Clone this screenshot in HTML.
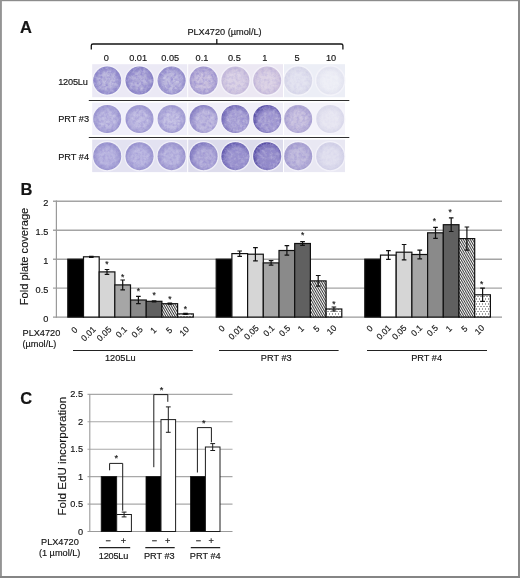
<!DOCTYPE html>
<html lang="en"><head><meta charset="utf-8"><title>Figure</title>
<style>html,body{margin:0;padding:0;background:#fff}body{width:520px;height:578px;overflow:hidden}svg{display:block}text{font-family:"Liberation Sans",Arial,Helvetica,sans-serif;fill:#151515;stroke:#151515;stroke-width:0.16px}</style>
</head><body>
<svg width="520" height="578" viewBox="0 0 520 578">
<defs>
<pattern id="hatch" width="2" height="2" patternUnits="userSpaceOnUse" patternTransform="rotate(60)"><rect width="2" height="2" fill="#fff"/><rect width="2" height="0.9" fill="#222"/></pattern>
<pattern id="dots" width="3" height="5" patternUnits="userSpaceOnUse"><rect width="3" height="5" fill="#fff"/><rect x="0.5" y="1" width="1" height="1" fill="#444"/><rect x="2" y="3.5" width="1" height="1" fill="#444"/></pattern>
<filter id="speck" x="0" y="0" width="100%" height="100%"><feTurbulence type="fractalNoise" baseFrequency="0.34" numOctaves="3" seed="7" result="n"/><feColorMatrix in="n" type="matrix" values="0 0 0 0 0.28  0 0 0 0 0.24  0 0 0 0 0.62  0 0 0 2.5 -0.98" result="c"/><feComposite in="c" in2="SourceGraphic" operator="in" result="d"/><feGaussianBlur in="d" stdDeviation="0.45"/></filter>
<filter id="speckw" x="0" y="0" width="100%" height="100%"><feTurbulence type="fractalNoise" baseFrequency="0.3" numOctaves="3" seed="19" result="n"/><feColorMatrix in="n" type="matrix" values="0 0 0 0 0.95  0 0 0 0 0.94  0 0 0 0 1  0 0 0 2.4 -1.0" result="c"/><feComposite in="c" in2="SourceGraphic" operator="in" result="d"/><feGaussianBlur in="d" stdDeviation="0.3"/></filter>
<filter id="soft"><feGaussianBlur stdDeviation="0.45"/></filter>
</defs>
<rect width="520" height="578" fill="#fff"/>
<text x="20" y="33" font-size="16.5" font-weight="bold" fill="#000">A</text>
<text x="224.5" y="34.8" font-size="9.2" text-anchor="middle">PLX4720 (µmol/L)</text>
<path d="M91.3 49.5 V45.6 Q91.3 44 93 44 H341.2 Q342.9 44 342.9 45.6 V49.5" fill="none" stroke="#151515" stroke-width="1.3"/>
<path d="M216.8 44 V38.9" fill="none" stroke="#151515" stroke-width="1.3"/>
<text x="106.2" y="61.3" font-size="9.2" text-anchor="middle">0</text>
<text x="138.1" y="61.3" font-size="9.2" text-anchor="middle">0.01</text>
<text x="170.2" y="61.3" font-size="9.2" text-anchor="middle">0.05</text>
<text x="202" y="61.3" font-size="9.2" text-anchor="middle">0.1</text>
<text x="234.4" y="61.3" font-size="9.2" text-anchor="middle">0.5</text>
<text x="264.9" y="61.3" font-size="9.2" text-anchor="middle">1</text>
<text x="297" y="61.3" font-size="9.2" text-anchor="middle">5</text>
<text x="331" y="61.3" font-size="9.2" text-anchor="middle">10</text>
<text x="58.2" y="85" font-size="9.2" letter-spacing="-0.2">1205Lu</text>
<rect x="92.2" y="64.2" width="95.0" height="33.0" fill="#ebe9f5"/>
<rect x="188.2" y="64.2" width="94.8" height="33.0" fill="#ece8f3"/>
<rect x="284.0" y="64.2" width="61.0" height="33.0" fill="#eceef6"/>
<radialGradient id="g00" cx="0.5" cy="0.52" r="0.5"><stop offset="0" stop-color="#b6b2da"/><stop offset="0.55" stop-color="#b6b2da"/><stop offset="0.92" stop-color="#8d87c8"/><stop offset="1" stop-color="#8d87c8"/></radialGradient>
<circle cx="107.2" cy="80.6" r="15.3" fill="#f6f5fb" opacity="0.75" filter="url(#soft)"/>
<circle cx="107.2" cy="80.6" r="14.0" fill="url(#g00)" filter="url(#soft)"/>
<radialGradient id="g01" cx="0.5" cy="0.52" r="0.5"><stop offset="0" stop-color="#aea9d6"/><stop offset="0.55" stop-color="#aea9d6"/><stop offset="0.92" stop-color="#8882c4"/><stop offset="1" stop-color="#8882c4"/></radialGradient>
<circle cx="139.5" cy="80.6" r="15.3" fill="#f6f5fb" opacity="0.75" filter="url(#soft)"/>
<circle cx="139.5" cy="80.6" r="14.0" fill="url(#g01)" filter="url(#soft)"/>
<radialGradient id="g02" cx="0.5" cy="0.52" r="0.5"><stop offset="0" stop-color="#bab6dc"/><stop offset="0.55" stop-color="#bab6dc"/><stop offset="0.92" stop-color="#9690cb"/><stop offset="1" stop-color="#9690cb"/></radialGradient>
<circle cx="171.6" cy="80.6" r="15.3" fill="#f6f5fb" opacity="0.75" filter="url(#soft)"/>
<circle cx="171.6" cy="80.6" r="14.0" fill="url(#g02)" filter="url(#soft)"/>
<radialGradient id="g03" cx="0.5" cy="0.52" r="0.5"><stop offset="0" stop-color="#c6bcdc"/><stop offset="0.55" stop-color="#c6bcdc"/><stop offset="0.92" stop-color="#a79dd0"/><stop offset="1" stop-color="#a79dd0"/></radialGradient>
<circle cx="203.6" cy="80.6" r="15.3" fill="#f6f5fb" opacity="0.75" filter="url(#soft)"/>
<circle cx="203.6" cy="80.6" r="14.0" fill="url(#g03)" filter="url(#soft)"/>
<radialGradient id="g04" cx="0.5" cy="0.52" r="0.5"><stop offset="0" stop-color="#dad1e5"/><stop offset="0.55" stop-color="#dad1e5"/><stop offset="0.92" stop-color="#cabfdc"/><stop offset="1" stop-color="#cabfdc"/></radialGradient>
<circle cx="235.4" cy="80.6" r="15.3" fill="#f6f5fb" opacity="0.75" filter="url(#soft)"/>
<circle cx="235.4" cy="80.6" r="14.0" fill="url(#g04)" filter="url(#soft)"/>
<radialGradient id="g05" cx="0.5" cy="0.52" r="0.5"><stop offset="0" stop-color="#dcd2e5"/><stop offset="0.55" stop-color="#dcd2e5"/><stop offset="0.92" stop-color="#ccc0dc"/><stop offset="1" stop-color="#ccc0dc"/></radialGradient>
<circle cx="267.2" cy="80.6" r="15.3" fill="#f6f5fb" opacity="0.75" filter="url(#soft)"/>
<circle cx="267.2" cy="80.6" r="14.0" fill="url(#g05)" filter="url(#soft)"/>
<radialGradient id="g06" cx="0.5" cy="0.52" r="0.5"><stop offset="0" stop-color="#e3e3f0"/><stop offset="0.55" stop-color="#e3e3f0"/><stop offset="0.92" stop-color="#dadaea"/><stop offset="1" stop-color="#dadaea"/></radialGradient>
<circle cx="298.2" cy="80.6" r="15.3" fill="#f6f5fb" opacity="0.75" filter="url(#soft)"/>
<circle cx="298.2" cy="80.6" r="14.0" fill="url(#g06)" filter="url(#soft)"/>
<radialGradient id="g07" cx="0.5" cy="0.52" r="0.5"><stop offset="0" stop-color="#eeeff6"/><stop offset="0.55" stop-color="#eeeff6"/><stop offset="0.92" stop-color="#e5e6f1"/><stop offset="1" stop-color="#e5e6f1"/></radialGradient>
<circle cx="330.2" cy="80.6" r="15.3" fill="#f6f5fb" opacity="0.75" filter="url(#soft)"/>
<circle cx="330.2" cy="80.6" r="14.0" fill="url(#g07)" filter="url(#soft)"/>
<text x="58.2" y="122.3" font-size="9.2">PRT #3</text>
<rect x="92.2" y="102.6" width="95.0" height="32.4" fill="#f0effa"/>
<rect x="188.2" y="102.6" width="94.8" height="32.4" fill="#f0eff8"/>
<rect x="284.0" y="102.6" width="61.0" height="32.4" fill="#f4f3fa"/>
<radialGradient id="g10" cx="0.5" cy="0.52" r="0.5"><stop offset="0" stop-color="#bcb8e0"/><stop offset="0.55" stop-color="#bcb8e0"/><stop offset="0.92" stop-color="#9c97d0"/><stop offset="1" stop-color="#9c97d0"/></radialGradient>
<circle cx="107.2" cy="119.0" r="15.3" fill="#f6f5fb" opacity="0.75" filter="url(#soft)"/>
<circle cx="107.2" cy="119.0" r="14.0" fill="url(#g10)" filter="url(#soft)"/>
<radialGradient id="g11" cx="0.5" cy="0.52" r="0.5"><stop offset="0" stop-color="#bebae1"/><stop offset="0.55" stop-color="#bebae1"/><stop offset="0.92" stop-color="#a09bd2"/><stop offset="1" stop-color="#a09bd2"/></radialGradient>
<circle cx="139.5" cy="119.0" r="15.3" fill="#f6f5fb" opacity="0.75" filter="url(#soft)"/>
<circle cx="139.5" cy="119.0" r="14.0" fill="url(#g11)" filter="url(#soft)"/>
<radialGradient id="g12" cx="0.5" cy="0.52" r="0.5"><stop offset="0" stop-color="#c1bde2"/><stop offset="0.55" stop-color="#c1bde2"/><stop offset="0.92" stop-color="#a39ed3"/><stop offset="1" stop-color="#a39ed3"/></radialGradient>
<circle cx="171.6" cy="119.0" r="15.3" fill="#f6f5fb" opacity="0.75" filter="url(#soft)"/>
<circle cx="171.6" cy="119.0" r="14.0" fill="url(#g12)" filter="url(#soft)"/>
<radialGradient id="g13" cx="0.57" cy="0.57" r="0.6"><stop offset="0" stop-color="#bcb6dd"/><stop offset="0.55" stop-color="#bcb6dd"/><stop offset="0.92" stop-color="#8780c2"/><stop offset="1" stop-color="#8780c2"/></radialGradient>
<circle cx="203.6" cy="119.0" r="15.3" fill="#f6f5fb" opacity="0.75" filter="url(#soft)"/>
<circle cx="203.6" cy="119.0" r="14.0" fill="url(#g13)" filter="url(#soft)"/>
<radialGradient id="g14" cx="0.57" cy="0.57" r="0.6"><stop offset="0" stop-color="#aaa3d4"/><stop offset="0.55" stop-color="#aaa3d4"/><stop offset="0.92" stop-color="#6c64b2"/><stop offset="1" stop-color="#6c64b2"/></radialGradient>
<circle cx="235.4" cy="119.0" r="15.3" fill="#f6f5fb" opacity="0.75" filter="url(#soft)"/>
<circle cx="235.4" cy="119.0" r="14.0" fill="url(#g14)" filter="url(#soft)"/>
<radialGradient id="g15" cx="0.57" cy="0.57" r="0.6"><stop offset="0" stop-color="#a39bd0"/><stop offset="0.55" stop-color="#a39bd0"/><stop offset="0.92" stop-color="#574ea4"/><stop offset="1" stop-color="#574ea4"/></radialGradient>
<circle cx="267.2" cy="119.0" r="15.3" fill="#f6f5fb" opacity="0.75" filter="url(#soft)"/>
<circle cx="267.2" cy="119.0" r="14.0" fill="url(#g15)" filter="url(#soft)"/>
<radialGradient id="g16" cx="0.5" cy="0.52" r="0.5"><stop offset="0" stop-color="#c9c1df"/><stop offset="0.55" stop-color="#c9c1df"/><stop offset="0.92" stop-color="#b1a9d4"/><stop offset="1" stop-color="#b1a9d4"/></radialGradient>
<circle cx="298.2" cy="119.0" r="15.3" fill="#f6f5fb" opacity="0.75" filter="url(#soft)"/>
<circle cx="298.2" cy="119.0" r="14.0" fill="url(#g16)" filter="url(#soft)"/>
<radialGradient id="g17" cx="0.5" cy="0.52" r="0.5"><stop offset="0" stop-color="#e8e7f2"/><stop offset="0.55" stop-color="#e8e7f2"/><stop offset="0.92" stop-color="#dddcec"/><stop offset="1" stop-color="#dddcec"/></radialGradient>
<circle cx="330.2" cy="119.0" r="15.3" fill="#f6f5fb" opacity="0.75" filter="url(#soft)"/>
<circle cx="330.2" cy="119.0" r="14.0" fill="url(#g17)" filter="url(#soft)"/>
<text x="58.2" y="160" font-size="9.2">PRT #4</text>
<rect x="92.2" y="139.6" width="95.0" height="32.5" fill="#e3e2f1"/>
<rect x="188.2" y="139.6" width="94.8" height="32.5" fill="#dddcec"/>
<rect x="284.0" y="139.6" width="61.0" height="32.5" fill="#e9e8f3"/>
<radialGradient id="g20" cx="0.5" cy="0.52" r="0.5"><stop offset="0" stop-color="#b7b3df"/><stop offset="0.55" stop-color="#b7b3df"/><stop offset="0.92" stop-color="#9a95cf"/><stop offset="1" stop-color="#9a95cf"/></radialGradient>
<circle cx="107.2" cy="156.2" r="15.3" fill="#f6f5fb" opacity="0.75" filter="url(#soft)"/>
<circle cx="107.2" cy="156.2" r="14.0" fill="url(#g20)" filter="url(#soft)"/>
<radialGradient id="g21" cx="0.5" cy="0.52" r="0.5"><stop offset="0" stop-color="#b9b5e0"/><stop offset="0.55" stop-color="#b9b5e0"/><stop offset="0.92" stop-color="#9c97d0"/><stop offset="1" stop-color="#9c97d0"/></radialGradient>
<circle cx="139.5" cy="156.2" r="15.3" fill="#f6f5fb" opacity="0.75" filter="url(#soft)"/>
<circle cx="139.5" cy="156.2" r="14.0" fill="url(#g21)" filter="url(#soft)"/>
<radialGradient id="g22" cx="0.5" cy="0.52" r="0.5"><stop offset="0" stop-color="#b8b4de"/><stop offset="0.55" stop-color="#b8b4de"/><stop offset="0.92" stop-color="#9c96ce"/><stop offset="1" stop-color="#9c96ce"/></radialGradient>
<circle cx="171.6" cy="156.2" r="15.3" fill="#f6f5fb" opacity="0.75" filter="url(#soft)"/>
<circle cx="171.6" cy="156.2" r="14.0" fill="url(#g22)" filter="url(#soft)"/>
<radialGradient id="g23" cx="0.57" cy="0.57" r="0.6"><stop offset="0" stop-color="#aea8d7"/><stop offset="0.55" stop-color="#aea8d7"/><stop offset="0.92" stop-color="#7d76bd"/><stop offset="1" stop-color="#7d76bd"/></radialGradient>
<circle cx="203.6" cy="156.2" r="15.3" fill="#f6f5fb" opacity="0.75" filter="url(#soft)"/>
<circle cx="203.6" cy="156.2" r="14.0" fill="url(#g23)" filter="url(#soft)"/>
<radialGradient id="g24" cx="0.57" cy="0.57" r="0.6"><stop offset="0" stop-color="#9a93cd"/><stop offset="0.55" stop-color="#9a93cd"/><stop offset="0.92" stop-color="#6058ac"/><stop offset="1" stop-color="#6058ac"/></radialGradient>
<circle cx="235.4" cy="156.2" r="15.3" fill="#f6f5fb" opacity="0.75" filter="url(#soft)"/>
<circle cx="235.4" cy="156.2" r="14.0" fill="url(#g24)" filter="url(#soft)"/>
<radialGradient id="g25" cx="0.57" cy="0.57" r="0.6"><stop offset="0" stop-color="#938bc8"/><stop offset="0.55" stop-color="#938bc8"/><stop offset="0.92" stop-color="#5248a0"/><stop offset="1" stop-color="#5248a0"/></radialGradient>
<circle cx="267.2" cy="156.2" r="15.3" fill="#f6f5fb" opacity="0.75" filter="url(#soft)"/>
<circle cx="267.2" cy="156.2" r="14.0" fill="url(#g25)" filter="url(#soft)"/>
<radialGradient id="g26" cx="0.5" cy="0.52" r="0.5"><stop offset="0" stop-color="#bfb9dc"/><stop offset="0.55" stop-color="#bfb9dc"/><stop offset="0.92" stop-color="#a8a1d0"/><stop offset="1" stop-color="#a8a1d0"/></radialGradient>
<circle cx="298.2" cy="156.2" r="15.3" fill="#f6f5fb" opacity="0.75" filter="url(#soft)"/>
<circle cx="298.2" cy="156.2" r="14.0" fill="url(#g26)" filter="url(#soft)"/>
<radialGradient id="g27" cx="0.5" cy="0.52" r="0.5"><stop offset="0" stop-color="#e1e0ef"/><stop offset="0.55" stop-color="#e1e0ef"/><stop offset="0.92" stop-color="#d4d3e8"/><stop offset="1" stop-color="#d4d3e8"/></radialGradient>
<circle cx="330.2" cy="156.2" r="15.3" fill="#f6f5fb" opacity="0.75" filter="url(#soft)"/>
<circle cx="330.2" cy="156.2" r="14.0" fill="url(#g27)" filter="url(#soft)"/>
<g filter="url(#speck)"><circle cx="107.2" cy="80.6" r="13.8" fill="#000" fill-opacity="0.75"/><circle cx="139.5" cy="80.6" r="13.8" fill="#000" fill-opacity="0.75"/><circle cx="171.6" cy="80.6" r="13.8" fill="#000" fill-opacity="0.7"/><circle cx="203.6" cy="80.6" r="13.8" fill="#000" fill-opacity="0.6"/><circle cx="235.4" cy="80.6" r="13.8" fill="#000" fill-opacity="0.25"/><circle cx="267.2" cy="80.6" r="13.8" fill="#000" fill-opacity="0.22"/><circle cx="298.2" cy="80.6" r="13.8" fill="#000" fill-opacity="0.1"/><circle cx="330.2" cy="80.6" r="13.8" fill="#000" fill-opacity="0.04"/><circle cx="107.2" cy="119.0" r="13.8" fill="#000" fill-opacity="0.45"/><circle cx="139.5" cy="119.0" r="13.8" fill="#000" fill-opacity="0.45"/><circle cx="171.6" cy="119.0" r="13.8" fill="#000" fill-opacity="0.45"/><circle cx="203.6" cy="119.0" r="13.8" fill="#000" fill-opacity="0.5"/><circle cx="235.4" cy="119.0" r="13.8" fill="#000" fill-opacity="0.65"/><circle cx="267.2" cy="119.0" r="13.8" fill="#000" fill-opacity="0.7"/><circle cx="298.2" cy="119.0" r="13.8" fill="#000" fill-opacity="0.4"/><circle cx="330.2" cy="119.0" r="13.8" fill="#000" fill-opacity="0.06"/><circle cx="107.2" cy="156.2" r="13.8" fill="#000" fill-opacity="0.4"/><circle cx="139.5" cy="156.2" r="13.8" fill="#000" fill-opacity="0.4"/><circle cx="171.6" cy="156.2" r="13.8" fill="#000" fill-opacity="0.4"/><circle cx="203.6" cy="156.2" r="13.8" fill="#000" fill-opacity="0.5"/><circle cx="235.4" cy="156.2" r="13.8" fill="#000" fill-opacity="0.6"/><circle cx="267.2" cy="156.2" r="13.8" fill="#000" fill-opacity="0.65"/><circle cx="298.2" cy="156.2" r="13.8" fill="#000" fill-opacity="0.4"/><circle cx="330.2" cy="156.2" r="13.8" fill="#000" fill-opacity="0.08"/></g>
<g filter="url(#speckw)" opacity="0.38"><circle cx="107.2" cy="80.6" r="13.8" fill="#000" fill-opacity="0.75"/><circle cx="139.5" cy="80.6" r="13.8" fill="#000" fill-opacity="0.75"/><circle cx="171.6" cy="80.6" r="13.8" fill="#000" fill-opacity="0.7"/><circle cx="203.6" cy="80.6" r="13.8" fill="#000" fill-opacity="0.6"/><circle cx="235.4" cy="80.6" r="13.8" fill="#000" fill-opacity="0.25"/><circle cx="267.2" cy="80.6" r="13.8" fill="#000" fill-opacity="0.22"/><circle cx="298.2" cy="80.6" r="13.8" fill="#000" fill-opacity="0.1"/><circle cx="330.2" cy="80.6" r="13.8" fill="#000" fill-opacity="0.04"/><circle cx="107.2" cy="119.0" r="13.8" fill="#000" fill-opacity="0.45"/><circle cx="139.5" cy="119.0" r="13.8" fill="#000" fill-opacity="0.45"/><circle cx="171.6" cy="119.0" r="13.8" fill="#000" fill-opacity="0.45"/><circle cx="203.6" cy="119.0" r="13.8" fill="#000" fill-opacity="0.5"/><circle cx="235.4" cy="119.0" r="13.8" fill="#000" fill-opacity="0.65"/><circle cx="267.2" cy="119.0" r="13.8" fill="#000" fill-opacity="0.7"/><circle cx="298.2" cy="119.0" r="13.8" fill="#000" fill-opacity="0.4"/><circle cx="330.2" cy="119.0" r="13.8" fill="#000" fill-opacity="0.06"/><circle cx="107.2" cy="156.2" r="13.8" fill="#000" fill-opacity="0.4"/><circle cx="139.5" cy="156.2" r="13.8" fill="#000" fill-opacity="0.4"/><circle cx="171.6" cy="156.2" r="13.8" fill="#000" fill-opacity="0.4"/><circle cx="203.6" cy="156.2" r="13.8" fill="#000" fill-opacity="0.5"/><circle cx="235.4" cy="156.2" r="13.8" fill="#000" fill-opacity="0.6"/><circle cx="267.2" cy="156.2" r="13.8" fill="#000" fill-opacity="0.65"/><circle cx="298.2" cy="156.2" r="13.8" fill="#000" fill-opacity="0.4"/><circle cx="330.2" cy="156.2" r="13.8" fill="#000" fill-opacity="0.08"/></g>
<path d="M88.8 100.45 H349.3 M88.8 137.5 H349.3" stroke="#303030" stroke-width="1.1" fill="none"/>
<text x="20.5" y="195" font-size="16.5" font-weight="bold" fill="#000">B</text>
<path d="M53 288.1 H502" stroke="#a4a4a4" stroke-width="1.4" fill="none"/>
<path d="M53 259.2 H502" stroke="#a4a4a4" stroke-width="1.4" fill="none"/>
<path d="M53 230.2 H502" stroke="#a4a4a4" stroke-width="1.4" fill="none"/>
<path d="M53 201.2 H502" stroke="#a4a4a4" stroke-width="1.4" fill="none"/>
<path d="M56.4 200.6 V317.7" stroke="#9a9a9a" stroke-width="1.2" fill="none"/>
<path d="M53 317.1 H502" stroke="#9a9a9a" stroke-width="1.3" fill="none"/>
<text x="48.4" y="321.6" font-size="9.2" text-anchor="end">0</text>
<text x="48.4" y="292.6" font-size="9.2" text-anchor="end">0.5</text>
<text x="48.4" y="263.7" font-size="9.2" text-anchor="end">1</text>
<text x="48.4" y="234.7" font-size="9.2" text-anchor="end">1.5</text>
<text x="48.4" y="205.7" font-size="9.2" text-anchor="end">2</text>
<text transform="translate(28.4 256.5) rotate(-90)" font-size="11.1" text-anchor="middle">Fold plate coverage</text>
<rect x="67.8" y="259.2" width="15.7" height="57.9" fill="#000" stroke="#111" stroke-width="1.2"/>
<text transform="translate(78.1 330.3) rotate(-45)" font-size="8.5" text-anchor="end">0</text>
<rect x="83.5" y="256.8" width="15.7" height="60.3" fill="#fff" stroke="#111" stroke-width="1.2"/>
<path d="M91.3 256.4 V257.3 M89.0 256.4 H93.6 M89.0 257.3 H93.6" stroke="#111" stroke-width="1.2" fill="none"/>
<text transform="translate(96.3 330.0) rotate(-45)" font-size="8.5" text-anchor="end">0.01</text>
<rect x="99.2" y="271.9" width="15.7" height="45.2" fill="#d6d6d6" stroke="#111" stroke-width="1.2"/>
<path d="M107.0 269.5 V274.3 M104.7 269.5 H109.3 M104.7 274.3 H109.3" stroke="#111" stroke-width="1.2" fill="none"/>
<text x="107.0" y="267.1" font-size="8.5" text-anchor="middle">*</text>
<text transform="translate(112.0 330.0) rotate(-45)" font-size="8.5" text-anchor="end">0.05</text>
<rect x="114.8" y="284.9" width="15.7" height="32.2" fill="#a6a6a6" stroke="#111" stroke-width="1.2"/>
<path d="M122.7 280.0 V289.9 M120.4 280.0 H125.0 M120.4 289.9 H125.0" stroke="#111" stroke-width="1.2" fill="none"/>
<text x="122.7" y="279.6" font-size="8.5" text-anchor="middle">*</text>
<text transform="translate(127.7 330.0) rotate(-45)" font-size="8.5" text-anchor="end">0.1</text>
<rect x="130.6" y="300.0" width="15.7" height="17.1" fill="#8a8a8a" stroke="#111" stroke-width="1.2"/>
<path d="M138.4 296.4 V303.6 M136.1 296.4 H140.7 M136.1 303.6 H140.7" stroke="#111" stroke-width="1.2" fill="none"/>
<text x="138.4" y="293.9" font-size="8.5" text-anchor="middle">*</text>
<text transform="translate(143.4 330.0) rotate(-45)" font-size="8.5" text-anchor="end">0.5</text>
<rect x="146.2" y="301.3" width="15.7" height="15.8" fill="#606060" stroke="#111" stroke-width="1.2"/>
<path d="M154.1 300.9 V301.8 M151.8 300.9 H156.4 M151.8 301.8 H156.4" stroke="#111" stroke-width="1.2" fill="none"/>
<text x="154.1" y="298.3" font-size="8.5" text-anchor="middle">*</text>
<text transform="translate(157.2 330.6) rotate(-45)" font-size="8.5" text-anchor="end">1</text>
<rect x="161.9" y="303.7" width="15.7" height="13.4" fill="url(#hatch)" stroke="#111" stroke-width="1.2"/>
<path d="M169.8 303.2 V304.1 M167.5 303.2 H172.1 M167.5 304.1 H172.1" stroke="#111" stroke-width="1.2" fill="none"/>
<text x="169.8" y="301.9" font-size="8.5" text-anchor="middle">*</text>
<text transform="translate(172.9 330.6) rotate(-45)" font-size="8.5" text-anchor="end">5</text>
<rect x="177.6" y="313.9" width="15.7" height="3.2" fill="url(#dots)" stroke="#111" stroke-width="1.2"/>
<path d="M185.5 313.4 V314.4 M183.2 313.4 H187.8 M183.2 314.4 H187.8" stroke="#111" stroke-width="1.2" fill="none"/>
<text x="185.5" y="312.3" font-size="8.5" text-anchor="middle">*</text>
<text transform="translate(189.7 330.0) rotate(-45)" font-size="8.5" text-anchor="end">10</text>
<rect x="216.2" y="259.2" width="15.7" height="57.9" fill="#000" stroke="#111" stroke-width="1.2"/>
<text transform="translate(225.4 328.9) rotate(-45)" font-size="8.5" text-anchor="end">0</text>
<rect x="231.9" y="253.6" width="15.7" height="63.5" fill="#fff" stroke="#111" stroke-width="1.2"/>
<path d="M239.7 251.0 V256.3 M237.4 251.0 H242.0 M237.4 256.3 H242.0" stroke="#111" stroke-width="1.2" fill="none"/>
<text transform="translate(243.6 328.6) rotate(-45)" font-size="8.5" text-anchor="end">0.01</text>
<rect x="247.6" y="254.2" width="15.7" height="62.9" fill="#d6d6d6" stroke="#111" stroke-width="1.2"/>
<path d="M255.4 247.6 V260.9 M253.1 247.6 H257.8 M253.1 260.9 H257.8" stroke="#111" stroke-width="1.2" fill="none"/>
<text transform="translate(259.3 328.6) rotate(-45)" font-size="8.5" text-anchor="end">0.05</text>
<rect x="263.3" y="262.9" width="15.7" height="54.2" fill="#a6a6a6" stroke="#111" stroke-width="1.2"/>
<path d="M271.1 260.6 V265.2 M268.8 260.6 H273.4 M268.8 265.2 H273.4" stroke="#111" stroke-width="1.2" fill="none"/>
<text transform="translate(275.0 328.6) rotate(-45)" font-size="8.5" text-anchor="end">0.1</text>
<rect x="279.0" y="250.5" width="15.7" height="66.6" fill="#8a8a8a" stroke="#111" stroke-width="1.2"/>
<path d="M286.9 245.7 V255.2 M284.6 245.7 H289.2 M284.6 255.2 H289.2" stroke="#111" stroke-width="1.2" fill="none"/>
<text transform="translate(290.8 328.6) rotate(-45)" font-size="8.5" text-anchor="end">0.5</text>
<rect x="294.7" y="243.5" width="15.7" height="73.6" fill="#606060" stroke="#111" stroke-width="1.2"/>
<path d="M302.6 241.6 V245.4 M300.2 241.6 H304.9 M300.2 245.4 H304.9" stroke="#111" stroke-width="1.2" fill="none"/>
<text x="302.6" y="238.1" font-size="8.5" text-anchor="middle">*</text>
<text transform="translate(304.6 329.2) rotate(-45)" font-size="8.5" text-anchor="end">1</text>
<rect x="310.4" y="280.9" width="15.7" height="36.2" fill="url(#hatch)" stroke="#111" stroke-width="1.2"/>
<path d="M318.2 275.5 V286.2 M315.9 275.5 H320.6 M315.9 286.2 H320.6" stroke="#111" stroke-width="1.2" fill="none"/>
<text transform="translate(320.2 329.2) rotate(-45)" font-size="8.5" text-anchor="end">5</text>
<rect x="326.1" y="309.0" width="15.7" height="8.1" fill="url(#dots)" stroke="#111" stroke-width="1.2"/>
<path d="M333.9 307.0 V311.0 M331.6 307.0 H336.2 M331.6 311.0 H336.2" stroke="#111" stroke-width="1.2" fill="none"/>
<text x="333.9" y="306.7" font-size="8.5" text-anchor="middle">*</text>
<text transform="translate(337.0 328.6) rotate(-45)" font-size="8.5" text-anchor="end">10</text>
<rect x="364.8" y="259.2" width="15.7" height="57.9" fill="#000" stroke="#111" stroke-width="1.2"/>
<text transform="translate(373.4 328.8) rotate(-45)" font-size="8.5" text-anchor="end">0</text>
<rect x="380.5" y="255.1" width="15.7" height="62.0" fill="#fff" stroke="#111" stroke-width="1.2"/>
<path d="M388.4 250.7 V259.4 M386.1 250.7 H390.7 M386.1 259.4 H390.7" stroke="#111" stroke-width="1.2" fill="none"/>
<text transform="translate(391.6 328.5) rotate(-45)" font-size="8.5" text-anchor="end">0.01</text>
<rect x="396.2" y="252.2" width="15.7" height="64.9" fill="#d6d6d6" stroke="#111" stroke-width="1.2"/>
<path d="M404.1 244.5 V259.8 M401.8 244.5 H406.4 M401.8 259.8 H406.4" stroke="#111" stroke-width="1.2" fill="none"/>
<text transform="translate(407.2 328.5) rotate(-45)" font-size="8.5" text-anchor="end">0.05</text>
<rect x="411.9" y="254.5" width="15.7" height="62.6" fill="#a6a6a6" stroke="#111" stroke-width="1.2"/>
<path d="M419.8 250.2 V258.9 M417.4 250.2 H422.1 M417.4 258.9 H422.1" stroke="#111" stroke-width="1.2" fill="none"/>
<text transform="translate(422.9 328.5) rotate(-45)" font-size="8.5" text-anchor="end">0.1</text>
<rect x="427.6" y="232.8" width="15.7" height="84.3" fill="#8a8a8a" stroke="#111" stroke-width="1.2"/>
<path d="M435.5 227.3 V238.3 M433.2 227.3 H437.8 M433.2 238.3 H437.8" stroke="#111" stroke-width="1.2" fill="none"/>
<text x="434.5" y="224.4" font-size="8.5" text-anchor="middle">*</text>
<text transform="translate(438.7 328.5) rotate(-45)" font-size="8.5" text-anchor="end">0.5</text>
<rect x="443.3" y="224.7" width="15.7" height="92.4" fill="#606060" stroke="#111" stroke-width="1.2"/>
<path d="M451.2 217.8 V231.5 M448.9 217.8 H453.5 M448.9 231.5 H453.5" stroke="#111" stroke-width="1.2" fill="none"/>
<text x="450.2" y="215.4" font-size="8.5" text-anchor="middle">*</text>
<text transform="translate(452.5 329.1) rotate(-45)" font-size="8.5" text-anchor="end">1</text>
<rect x="459.0" y="238.6" width="15.7" height="78.5" fill="url(#hatch)" stroke="#111" stroke-width="1.2"/>
<path d="M466.9 227.0 V250.2 M464.6 227.0 H469.2 M464.6 250.2 H469.2" stroke="#111" stroke-width="1.2" fill="none"/>
<text transform="translate(468.2 329.1) rotate(-45)" font-size="8.5" text-anchor="end">5</text>
<rect x="474.7" y="294.8" width="15.7" height="22.3" fill="url(#dots)" stroke="#111" stroke-width="1.2"/>
<path d="M482.6 288.2 V301.3 M480.2 288.2 H484.9 M480.2 301.3 H484.9" stroke="#111" stroke-width="1.2" fill="none"/>
<text x="481.6" y="287.0" font-size="8.5" text-anchor="middle">*</text>
<text transform="translate(484.9 328.5) rotate(-45)" font-size="8.5" text-anchor="end">10</text>
<text x="22.5" y="336.3" font-size="9.2">PLX4720</text>
<text x="22.5" y="347.2" font-size="9.2">(µmol/L)</text>
<path d="M73 350.5 H192.8 M219 350.5 H338.6 M367 350.5 H487" stroke="#222" stroke-width="1.2" fill="none"/>
<text x="120.3" y="361" font-size="9.2" text-anchor="middle">1205Lu</text>
<text x="276.2" y="361" font-size="9.2" text-anchor="middle">PRT #3</text>
<text x="426.6" y="361" font-size="9.2" text-anchor="middle">PRT #4</text>
<text x="20.3" y="404.2" font-size="16.5" font-weight="bold" fill="#000">C</text>
<path d="M87.5 504.1 H232.5" stroke="#a8a8a8" stroke-width="1.1" fill="none"/>
<path d="M87.5 476.6 H232.5" stroke="#a8a8a8" stroke-width="1.1" fill="none"/>
<path d="M87.5 449.2 H232.5" stroke="#a8a8a8" stroke-width="1.1" fill="none"/>
<path d="M87.5 421.8 H232.5" stroke="#a8a8a8" stroke-width="1.1" fill="none"/>
<path d="M87.5 394.4 H232.5" stroke="#a8a8a8" stroke-width="1.1" fill="none"/>
<path d="M89.8 393.9 V532.0" stroke="#9a9a9a" stroke-width="1.1" fill="none"/>
<path d="M87.5 531.5 H232.5" stroke="#9a9a9a" stroke-width="1.2" fill="none"/>
<text x="83" y="534.5" font-size="9.2" text-anchor="end">0</text>
<text x="83" y="507.1" font-size="9.2" text-anchor="end">0.5</text>
<text x="83" y="479.6" font-size="9.2" text-anchor="end">1</text>
<text x="83" y="452.2" font-size="9.2" text-anchor="end">1.5</text>
<text x="83" y="424.8" font-size="9.2" text-anchor="end">2</text>
<text x="83" y="397.4" font-size="9.2" text-anchor="end">2.5</text>
<text transform="translate(65.8 456.2) rotate(-90)" font-size="11.6" text-anchor="middle">Fold EdU incorporation</text>
<rect x="101.2" y="476.6" width="15.5" height="54.9" fill="#000" stroke="#111" stroke-width="0.8"/>
<rect x="116.7" y="514.5" width="14.7" height="17.0" fill="#fff" stroke="#1c1c1c" stroke-width="1"/>
<path d="M124.1 512.1 V516.9 M121.7 512.1 H126.5 M121.7 516.9 H126.5" stroke="#1c1c1c" stroke-width="1" fill="none"/>
<rect x="146.0" y="476.6" width="15.0" height="54.9" fill="#000" stroke="#111" stroke-width="0.8"/>
<rect x="161.0" y="419.6" width="14.6" height="111.9" fill="#fff" stroke="#1c1c1c" stroke-width="1"/>
<path d="M168.3 406.9 V432.3 M165.9 406.9 H170.7 M165.9 432.3 H170.7" stroke="#1c1c1c" stroke-width="1" fill="none"/>
<rect x="190.5" y="476.6" width="14.9" height="54.9" fill="#000" stroke="#111" stroke-width="0.8"/>
<rect x="205.4" y="447.0" width="14.6" height="84.5" fill="#fff" stroke="#1c1c1c" stroke-width="1"/>
<path d="M212.7 443.6 V450.5 M210.3 443.6 H215.1 M210.3 450.5 H215.1" stroke="#1c1c1c" stroke-width="1" fill="none"/>
<path d="M109.6 470.3 V463.4 H122.7 V510.7" stroke="#1c1c1c" stroke-width="1" fill="none"/>
<path d="M153.8 467.2 V394.6 H167.8 V401.8" stroke="#1c1c1c" stroke-width="1" fill="none"/>
<path d="M197.4 472.5 V427.6 H211.4 V442.3" stroke="#1c1c1c" stroke-width="1" fill="none"/>
<text x="116.4" y="461.2" font-size="9.2" text-anchor="middle">*</text>
<text x="161.5" y="392.7" font-size="9.2" text-anchor="middle">*</text>
<text x="203.9" y="426.3" font-size="9.2" text-anchor="middle">*</text>
<text x="108.2" y="544.3" font-size="9.2" text-anchor="middle">−</text>
<text x="123.4" y="544.3" font-size="9.2" text-anchor="middle">+</text>
<text x="154.4" y="544.3" font-size="9.2" text-anchor="middle">−</text>
<text x="167.6" y="544.3" font-size="9.2" text-anchor="middle">+</text>
<text x="198.5" y="544.3" font-size="9.2" text-anchor="middle">−</text>
<text x="211.3" y="544.3" font-size="9.2" text-anchor="middle">+</text>
<text x="41" y="544.6" font-size="9.2">PLX4720</text>
<text x="38.9" y="556" font-size="9.2">(1 µmol/L)</text>
<path d="M99 547.6 H130.2 M145.3 547.6 H174.7 M190.8 547.6 H220.2" stroke="#222" stroke-width="1.1" fill="none"/>
<text x="98.8" y="559.2" font-size="9.2" letter-spacing="-0.22">1205Lu</text>
<text x="159.3" y="559.2" font-size="9.2" text-anchor="middle">PRT #3</text>
<text x="205.2" y="559.2" font-size="9.2" text-anchor="middle">PRT #4</text>
<rect x="0" y="0" width="520" height="1.2" fill="#8c8c8c"/>
<rect x="0" y="0" width="1.9" height="578" fill="#949494"/>
<rect x="518" y="0" width="2" height="578" fill="#8a8a8a"/>
<rect x="0" y="576" width="520" height="2" fill="#858585"/>
</svg></body></html>
